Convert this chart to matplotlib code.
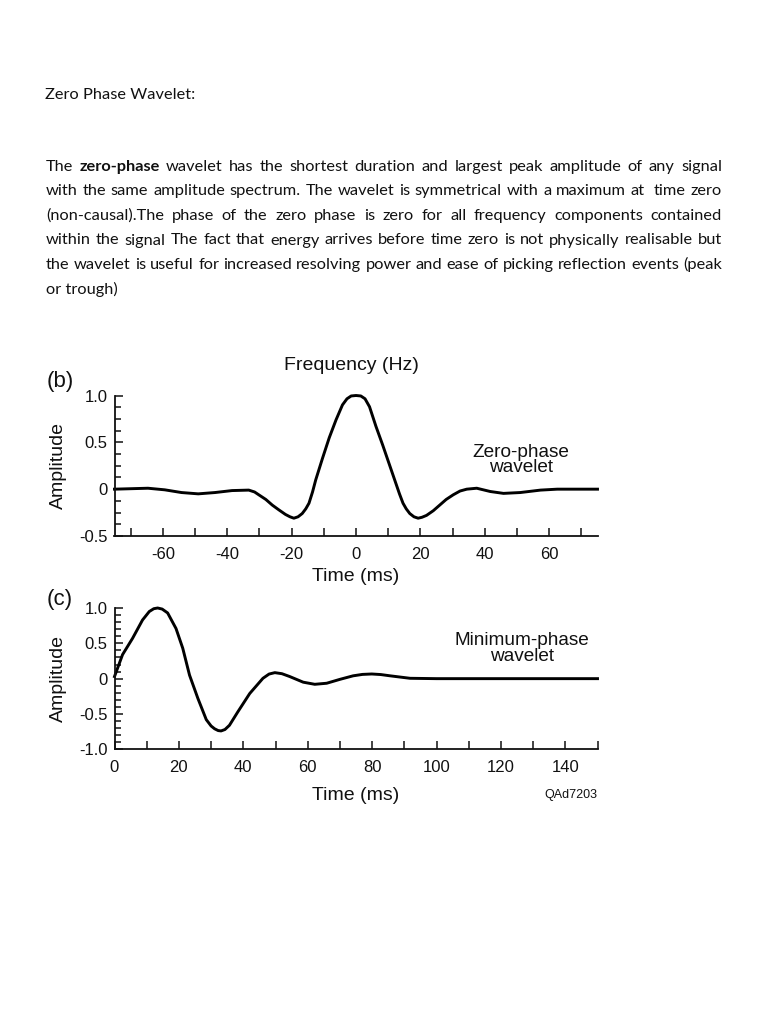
import matplotlib
matplotlib.use('Agg')
import matplotlib.pyplot as plt
from matplotlib.ticker import MultipleLocator

plt.rcParams['font.family'] = ['Liberation Sans', 'DejaVu Sans']
plt.rcParams['axes.unicode_minus'] = False

## data
# zero-phase wavelet (b)
zero_t = [-75, -64.6, -59.4, -54.2, -49, -43.8, -38.5, -33.3, -31.5, -30.2, -28, -26, -24, -21.9,
          -20.5, -19.3, -18, -16.7, -15.6, -14.6, -13.5, -12.5, -10.4, -8.3, -6.2, -4.2, -2.8,
          -1.5, 0, 1.5, 2.8, 4.2, 6.2, 8.3, 10.4, 12.5, 13.5, 14.6, 15.6, 16.7, 18, 19.3,
          20.5, 21.9, 24, 26, 28, 30.2, 32.3, 34.4, 37.5, 41.7, 45.8, 51, 57.3, 62.5, 75]
zero_amp = [0, 0.01, -0.007, -0.036, -0.05, -0.036, -0.015, -0.01, -0.03, -0.06, -0.11, -0.17,
            -0.22, -0.27, -0.295, -0.31, -0.295, -0.26, -0.21, -0.15, -0.03, 0.10, 0.33, 0.55,
            0.74, 0.90, 0.965, 0.995, 1.0, 0.995, 0.965, 0.88, 0.67, 0.47, 0.26, 0.05, -0.05,
            -0.15, -0.21, -0.26, -0.295, -0.31, -0.3, -0.28, -0.23, -0.17, -0.11, -0.06, -0.02,
            0.0, 0.01, -0.025, -0.045, -0.036, -0.01, 0.0, 0.0]
zero_yticks = [-0.5, 0, 0.5, 1.0]
zero_ylabels = ['-0.5', '0', '0.5', '1.0']
zero_xticks = [-60, -40, -20, 0, 20, 40, 60]

# minimum-phase wavelet (c)
min_t = [0, 2.5, 5.6, 8.7, 10.8, 12.2, 13.4, 14.8, 16.5, 19.1, 21.2, 23.3, 25.9, 28.5, 30,
         31.1, 32.2, 33.1, 34.3, 35.7, 38.3, 42, 46.1, 48, 49.8, 52, 54.4, 58.6, 62.2, 65.9,
         70, 74.1, 77, 79.9, 82.7, 85.6, 91.8, 100, 120, 150]
min_amp = [0.03, 0.34, 0.57, 0.83, 0.95, 0.99, 1.0, 0.985, 0.93, 0.71, 0.43, 0.05, -0.28,
           -0.58, -0.67, -0.71, -0.735, -0.74, -0.72, -0.66, -0.47, -0.21, 0.005, 0.065,
           0.085, 0.07, 0.03, -0.05, -0.08, -0.065, -0.01, 0.04, 0.06, 0.066, 0.058, 0.04,
           0.005, 0.0, 0.0, 0.0]
min_yticks = [-1.0, -0.5, 0, 0.5, 1.0]
min_ylabels = ['-1.0', '-0.5', '0', '0.5', '1.0']
min_xticks = [0, 20, 40, 60, 80, 100, 120, 140]

heading = "Zero Phase Wavelet:"
para_lines = [
    "The zero-phase wavelet has the shortest duration and largest peak amplitude of any signal",
    "with the same amplitude spectrum. The wavelet is symmetrical with a maximum at  time zero",
    "(non-causal).The phase of the zero phase is zero for all frequency components contained",
    "within the signal The fact that energy arrives before time zero is not physically realisable but",
    "the wavelet is useful for increased resolving power and ease of picking reflection events (peak",
    "or trough)",
]
bold_words = {(0, 1)}

W, H = 768, 1024
fig = plt.figure(figsize=(W / 100, H / 100), dpi=100)
fig.patch.set_facecolor('white')
ink = '#111111'


def fx(px):
    return px / W


def fy(py):
    return 1 - py / H


## document text
fig.text(fx(45), fy(99.3), heading, family='Lato', fontsize=11.8, color=ink, va='baseline')

renderer = fig.canvas.get_renderer()
para_size = 11.8
left, right = 46, 722
for i, line in enumerate(para_lines):
    y = fy(170.7 + i * 24.6)
    if i == len(para_lines) - 1:
        fig.text(fx(left), y, line, family='Lato', fontsize=para_size, color=ink, va='baseline')
        continue
    # justified line: spread the words over the full width
    words = line.split(' ')
    weights = ['bold' if (i, j) in bold_words else 'normal' for j in range(len(words))]
    widths = []
    for w, wt in zip(words, weights):
        if not w:
            widths.append(0)
            continue
        t = fig.text(0, 0, w, family='Lato', fontsize=para_size, weight=wt)
        widths.append(t.get_window_extent(renderer).width)
        t.remove()
    gap = (right - left - sum(widths)) / (len(words) - 1)
    x = left
    for w, wt, wd in zip(words, weights, widths):
        if w:
            fig.text(fx(x), y, w, family='Lato', fontsize=para_size, weight=wt,
                     color=ink, va='baseline')
        x += wd + gap


## figure panels
def style(ax, yticks, ylabels, xticks, yminor):
    for s in ['top', 'right']:
        ax.spines[s].set_visible(False)
    for s in ['left', 'bottom']:
        ax.spines[s].set_linewidth(1.3)
        ax.spines[s].set_color(ink)
    ax.set_yticks(yticks)
    ax.set_yticklabels(ylabels)
    ax.set_xticks(xticks)
    ax.set_xticklabels([str(v) for v in xticks])
    ax.xaxis.set_minor_locator(MultipleLocator(10))
    ax.yaxis.set_minor_locator(MultipleLocator(yminor))
    ax.tick_params(which='both', direction='in', width=1.1, colors=ink, labelsize=12)
    ax.tick_params(axis='x', which='both', length=6, pad=8)
    ax.tick_params(axis='y', which='major', length=6, pad=5)
    ax.tick_params(axis='y', which='minor', length=4.5)
    ax.set_facecolor('none')


axl, axr = 114.5, 597.5
ax1 = fig.add_axes([fx(axl), fy(536), (axr - axl) / W, (536 - 395.5) / H])
ax1.plot(zero_t, zero_amp, color='black', lw=2.1, clip_on=False, solid_joinstyle='round')
ax1.set_xlim(-75, 75)
ax1.set_ylim(-0.5, 1.0)
style(ax1, zero_yticks, zero_ylabels, zero_xticks, 0.125)
ax1.set_xlabel('Time (ms)', fontsize=14, labelpad=4, color=ink)
ax1.set_ylabel('Amplitude', fontsize=14, labelpad=9, color=ink)
ax1.text(51.3, 0.31, 'Zero-phase\nwavelet', fontsize=13.7, ha='center', va='center',
         linespacing=0.9, color=ink)

ax2 = fig.add_axes([fx(axl), fy(749.3), (axr - axl) / W, (749.3 - 608) / H])
ax2.plot(min_t, min_amp, color='black', lw=2.1, clip_on=False, solid_joinstyle='round')
ax2.set_xlim(0, 150)
ax2.set_ylim(-1.0, 1.0)
style(ax2, min_yticks, min_ylabels, min_xticks, 0.1)
ax2.set_xlabel('Time (ms)', fontsize=14, labelpad=8, color=ink)
ax2.set_ylabel('Amplitude', fontsize=14, labelpad=9, color=ink)
ax2.text(126.6, 0.43, 'Minimum-phase\nwavelet', fontsize=13.7, ha='center', va='center',
         linespacing=0.9, color=ink)

fig.text(fx(351), fy(365), 'Frequency (Hz)', fontsize=14, ha='center', va='center', color=ink)
fig.text(fx(47), fy(381), '(b)', fontsize=16, ha='left', va='center', color=ink)
fig.text(fx(47), fy(599), '(c)', fontsize=16, ha='left', va='center', color=ink)
fig.text(fx(597), fy(795), 'QAd7203', fontsize=9, ha='right', va='center', color=ink)

plt.savefig('out.png', dpi=100, facecolor='white')
